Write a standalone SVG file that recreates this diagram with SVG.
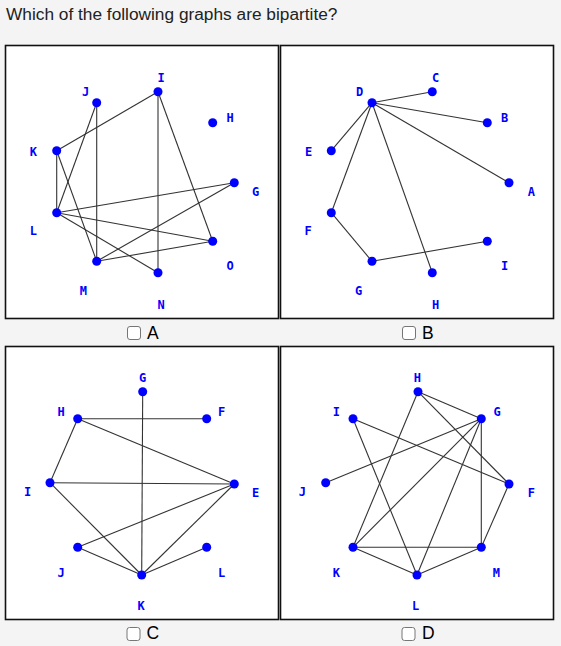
<svg xmlns="http://www.w3.org/2000/svg" width="561" height="646" viewBox="0 0 561 646">
<style>
.bg{fill:#f4f4f4}
.panel{fill:#ffffff;stroke:#111;stroke-width:1.6}
.e line{stroke:#333;stroke-width:1.1}
.n circle{fill:#0000ff}
.n text{fill:#0000ff;font-family:"DejaVu Sans Mono",monospace;font-weight:bold;font-size:12px;text-anchor:middle}
.title{font-family:"Liberation Sans",Arial,sans-serif;font-size:17.3px;fill:#222}
.cb{fill:#ffffff;stroke:#767676;stroke-width:1}
.opt{font-family:"Liberation Sans",Arial,sans-serif;font-size:17.5px;fill:#000}
</style>
<rect class="bg" x="0" y="0" width="561" height="646"/>
<text class="title" x="6" y="19.5">Which of the following graphs are bipartite?</text>

<g id="panels">
<rect class="panel" x="5.5" y="45.5" width="273" height="273"/>
<rect class="panel" x="280.5" y="45.5" width="273" height="273"/>
<rect class="panel" x="5.5" y="346.5" width="273" height="273"/>
<rect class="panel" x="280.5" y="346.5" width="273" height="273"/>
</g>

<g id="connectors">
<g class="e" id="edgesA">
<line x1="56.7" y1="150.7" x2="158" y2="91.7"/>
<line x1="96.7" y1="102.7" x2="56.7" y2="212.7"/>
<line x1="96.7" y1="102.7" x2="96.7" y2="261.3"/>
<line x1="56.7" y1="150.7" x2="56.7" y2="212.7"/>
<line x1="56.7" y1="150.7" x2="96.7" y2="261.3"/>
<line x1="158" y1="91.7" x2="158" y2="272.7"/>
<line x1="158" y1="91.7" x2="212.7" y2="241.3"/>
<line x1="56.7" y1="212.7" x2="234.3" y2="182.7"/>
<line x1="56.7" y1="212.7" x2="212.7" y2="241.3"/>
<line x1="56.7" y1="212.7" x2="158" y2="272.7"/>
<line x1="96.7" y1="261.3" x2="234.3" y2="182.7"/>
<line x1="96.7" y1="261.3" x2="212.7" y2="241.3"/>
</g>
<g class="e" id="edgesB">
<line x1="372" y1="102.7" x2="432.3" y2="91.7"/>
<line x1="372" y1="102.7" x2="487.3" y2="122.7"/>
<line x1="372" y1="102.7" x2="509" y2="182.7"/>
<line x1="372" y1="102.7" x2="331.3" y2="150.7"/>
<line x1="372" y1="102.7" x2="331.3" y2="212.7"/>
<line x1="372" y1="102.7" x2="432.3" y2="272.7"/>
<line x1="331.3" y1="212.7" x2="372" y2="261.3"/>
<line x1="372" y1="261.3" x2="487.3" y2="241.3"/>
</g>
<g class="e" id="edgesC">
<line x1="142.7" y1="391.7" x2="141.7" y2="575"/>
<line x1="77.7" y1="418.7" x2="206.7" y2="418.7"/>
<line x1="77.7" y1="418.7" x2="234.3" y2="484"/>
<line x1="77.7" y1="418.7" x2="50" y2="482.7"/>
<line x1="50" y1="482.7" x2="234.3" y2="484"/>
<line x1="50" y1="482.7" x2="141.7" y2="575"/>
<line x1="234.3" y1="484" x2="77.7" y2="547.3"/>
<line x1="234.3" y1="484" x2="141.7" y2="575"/>
<line x1="77.7" y1="547.3" x2="141.7" y2="575"/>
<line x1="206.7" y1="547.3" x2="141.7" y2="575"/>
</g>
<g class="e" id="edgesD">
<line x1="418" y1="391.7" x2="481.3" y2="418.7"/>
<line x1="418" y1="391.7" x2="509" y2="484"/>
<line x1="418" y1="391.7" x2="353" y2="547.3"/>
<line x1="353" y1="418.7" x2="509" y2="484"/>
<line x1="353" y1="418.7" x2="417" y2="575"/>
<line x1="481.3" y1="418.7" x2="325.7" y2="482.7"/>
<line x1="481.3" y1="418.7" x2="353" y2="547.3"/>
<line x1="481.3" y1="418.7" x2="417" y2="575"/>
<line x1="481.3" y1="418.7" x2="481.3" y2="547.3"/>
<line x1="509" y1="484" x2="481.3" y2="547.3"/>
<line x1="353" y1="547.3" x2="481.3" y2="547.3"/>
<line x1="353" y1="547.3" x2="417" y2="575"/>
<line x1="417" y1="575" x2="481.3" y2="547.3"/>
</g>
</g>

<g id="nodesA">
<g class="n" id="A-I"><circle cx="158" cy="91.7" r="4.5"/><text x="161" y="82">I</text></g>
<g class="n" id="A-J"><circle cx="96.7" cy="102.7" r="4.5"/><text x="85.7" y="96">J</text></g>
<g class="n" id="A-H"><circle cx="212.7" cy="122.7" r="4.5"/><text x="230" y="122">H</text></g>
<g class="n" id="A-K"><circle cx="56.7" cy="150.7" r="4.5"/><text x="33.3" y="156">K</text></g>
<g class="n" id="A-G"><circle cx="234.3" cy="182.7" r="4.5"/><text x="255.7" y="196">G</text></g>
<g class="n" id="A-L"><circle cx="56.7" cy="212.7" r="4.5"/><text x="33.3" y="235">L</text></g>
<g class="n" id="A-O"><circle cx="212.7" cy="241.3" r="4.5"/><text x="230" y="270">O</text></g>
<g class="n" id="A-M"><circle cx="96.7" cy="261.3" r="4.5"/><text x="83.3" y="294.5">M</text></g>
<g class="n" id="A-N"><circle cx="158" cy="272.7" r="4.5"/><text x="161" y="308.5">N</text></g>
</g>

<g id="nodesB">
<g class="n" id="B-C"><circle cx="432.3" cy="91.7" r="4.5"/><text x="435.7" y="82">C</text></g>
<g class="n" id="B-D"><circle cx="372" cy="102.7" r="4.5"/><text x="359.7" y="96">D</text></g>
<g class="n" id="B-B"><circle cx="487.3" cy="122.7" r="4.5"/><text x="504.7" y="122">B</text></g>
<g class="n" id="B-E"><circle cx="331.3" cy="150.7" r="4.5"/><text x="308.7" y="156">E</text></g>
<g class="n" id="B-A"><circle cx="509" cy="182.7" r="4.5"/><text x="531.3" y="196">A</text></g>
<g class="n" id="B-F"><circle cx="331.3" cy="212.7" r="4.5"/><text x="308" y="234.5">F</text></g>
<g class="n" id="B-I"><circle cx="487.3" cy="241.3" r="4.5"/><text x="504.7" y="270">I</text></g>
<g class="n" id="B-G"><circle cx="372" cy="261.3" r="4.5"/><text x="358.7" y="294.5">G</text></g>
<g class="n" id="B-H"><circle cx="432.3" cy="272.7" r="4.5"/><text x="435.7" y="308.5">H</text></g>
</g>

<g id="nodesC">
<g class="n" id="C-G"><circle cx="142.7" cy="391.7" r="4.5"/><text x="142.7" y="382">G</text></g>
<g class="n" id="C-H"><circle cx="77.7" cy="418.7" r="4.5"/><text x="61" y="415.5">H</text></g>
<g class="n" id="C-F"><circle cx="206.7" cy="418.7" r="4.5"/><text x="221.7" y="415.5">F</text></g>
<g class="n" id="C-I"><circle cx="50" cy="482.7" r="4.5"/><text x="27.7" y="496">I</text></g>
<g class="n" id="C-E"><circle cx="234.3" cy="484" r="4.5"/><text x="255.7" y="497">E</text></g>
<g class="n" id="C-J"><circle cx="77.7" cy="547.3" r="4.5"/><text x="61" y="576.5">J</text></g>
<g class="n" id="C-L"><circle cx="206.7" cy="547.3" r="4.5"/><text x="221.7" y="576.5">L</text></g>
<g class="n" id="C-K"><circle cx="141.7" cy="575" r="4.5"/><text x="141" y="610">K</text></g>
</g>

<g id="nodesD">
<g class="n" id="D-H"><circle cx="418" cy="391.7" r="4.5"/><text x="417.3" y="382">H</text></g>
<g class="n" id="D-I"><circle cx="353" cy="418.7" r="4.5"/><text x="336.3" y="415.5">I</text></g>
<g class="n" id="D-G"><circle cx="481.3" cy="418.7" r="4.5"/><text x="497" y="415.5">G</text></g>
<g class="n" id="D-J"><circle cx="325.7" cy="482.7" r="4.5"/><text x="302.3" y="496">J</text></g>
<g class="n" id="D-F"><circle cx="509" cy="484" r="4.5"/><text x="531.3" y="497">F</text></g>
<g class="n" id="D-K"><circle cx="353" cy="547.3" r="4.5"/><text x="336.3" y="576.5">K</text></g>
<g class="n" id="D-M"><circle cx="481.3" cy="547.3" r="4.5"/><text x="496.3" y="576.5">M</text></g>
<g class="n" id="D-L"><circle cx="417" cy="575" r="4.5"/><text x="415.7" y="610">L</text></g>
</g>

<g id="options">
<rect class="cb" x="127.5" y="326.5" width="13" height="13" rx="2.5"/>
<text class="opt" x="147" y="338.5">A</text>
<rect class="cb" x="402.5" y="326.5" width="13" height="13" rx="2.5"/>
<text class="opt" x="422" y="338.5">B</text>
<rect class="cb" x="127" y="627.5" width="13" height="13" rx="2.5"/>
<text class="opt" x="146.5" y="638.5">C</text>
<rect class="cb" x="402" y="627.5" width="13" height="13" rx="2.5"/>
<text class="opt" x="422" y="638.5">D</text>
</g>
</svg>
